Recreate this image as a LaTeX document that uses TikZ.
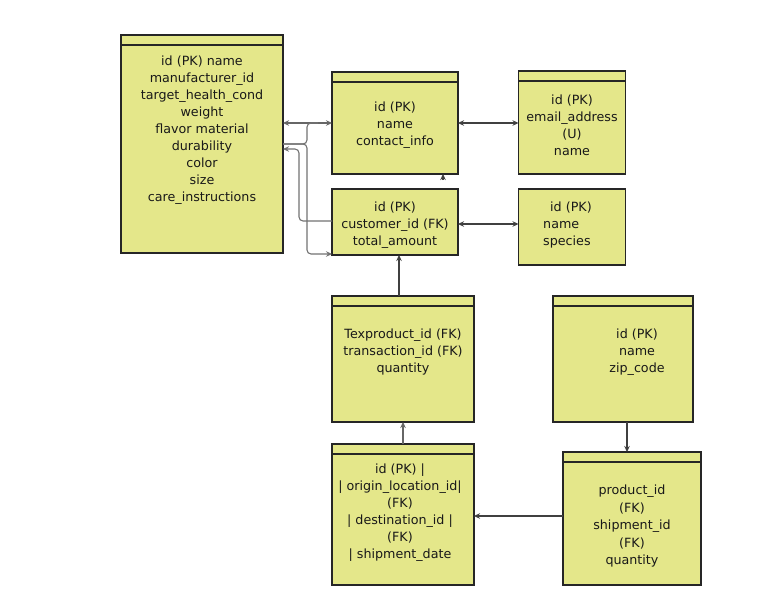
\documentclass[tikz,border=0pt]{standalone}
\usepackage{fontspec}
\setmainfont{DejaVu Sans}
\usetikzlibrary{arrows.meta}
\definecolor{boxfill}{RGB}{228,231,138}
\begin{document}
\begin{tikzpicture}[x=1pt,y=-1pt,
  tbl/.style={draw=black!85, line width=1.2pt, fill=boxfill, anchor=north west, inner sep=0pt, outer sep=0pt},
  hdr/.style={draw=black!85, line width=1.2pt},
  txt/.style={font=\fontsize{12.7}{17}\selectfont, align=center, text=black!90, inner sep=0pt},
  tip/.style={-{Stealth[length=6pt,width=5.5pt]}},
  bitip/.style={{Stealth[length=6pt,width=5.5pt]}-{Stealth[length=6pt,width=5.5pt]}},
  conn/.style={line width=1.1pt, draw=black!75},
  softconn/.style={line width=1.1pt, draw=black!55, rounded corners=4pt}]
\useasboundingbox (0,0) rectangle (768,594);
\fill[white] (0,0) rectangle (768,594);
% tables
\node[tbl, minimum width=162pt, minimum height=218pt] (A) at (121,35) {};
\node[tbl, minimum width=126pt, minimum height=102pt] (B) at (332,72) {};
\node[tbl, minimum width=107pt, minimum height=103pt] (C) at (518.5,71) {};
\node[tbl, minimum width=126pt, minimum height=66pt] (D) at (332,189) {};
\node[tbl, minimum width=107pt, minimum height=76pt] (E) at (518.5,189) {};
\node[tbl, minimum width=142pt, minimum height=126pt] (F) at (332,296) {};
\node[tbl, minimum width=140pt, minimum height=126pt] (G) at (553,296) {};
\node[tbl, minimum width=142pt, minimum height=141pt] (H) at (332,444) {};
\node[tbl, minimum width=138pt, minimum height=133pt] (I) at (563,452) {};
% header bands
\foreach \t in {A,B,C,F,G,H,I}
  \draw[hdr] ([yshift=-10pt]\t.north west) -- ([yshift=-10pt]\t.north east);
% texts
\node[txt] (At) at (202,130.5) {id (PK) name\\manufacturer\_id\\target\_health\_cond\\weight\\flavor material\\durability\\color\\size\\care\_instructions};
\node[txt] (Bt) at (395,125.5) {id (PK)\\name\\contact\_info};
\node[txt] (Ct) at (572,125) {id (PK)\\email\_address\\(U)\\name};
\node[txt] (Dt) at (395,225) {id (PK)\\customer\_id (FK)\\total\_amount};
\node[txt, align=left, anchor=west] (Et) at (543,225) {\hspace{7pt}id (PK)\\name\\species};
\node[txt] (Ft) at (403,352) {Texproduct\_id (FK)\\transaction\_id (FK)\\quantity};
\node[txt] (Gt) at (637,352) {id (PK)\\name\\zip\_code};
\node[txt] (Ht) at (400,513) {id (PK) |\\| origin\_location\_id|\\(FK)\\| destination\_id |\\(FK)\\| shipment\_date};
\node[txt, font=\fontsize{12.7}{17.5}\selectfont] (It) at (632,526) {product\_id\\(FK)\\shipment\_id\\(FK)\\quantity};
% helper levels
\coordinate (y144) at (0,144);
\coordinate (y149) at (0,149);
\coordinate (y221) at (0,221);
\coordinate (y224) at (0,224);
\coordinate (y254) at (0,254);
\coordinate (y516) at (0,516);
\coordinate (x399) at (399,0);
\coordinate (x443) at (443,0);
\coordinate (x627) at (627,0);
\coordinate (join) at (318,123);
% connectors left
\draw[conn, bitip, draw=black!60] (A.east |- B.west) -- (B.west);
\draw[softconn] (A.east |- y144) -- (307,144) -- (307,123) -- (join);
\draw[softconn, tip] (A.east |- y144) -- (307,144) -- (307,254) -- (D.west |- y254);
\draw[softconn, tip] (D.west |- y221) -- (299,221) -- (299,149) -- (A.east |- y149);
% other connectors
\draw[conn, bitip] (B.east) -- (C.west |- B.east);
\draw[conn, bitip] (D.east |- y224) -- (E.west |- y224);
\draw[conn, tip] ([yshift=-6pt]B.south -| x443) -- (B.south -| x443);
\draw[conn, tip] (F.north -| x399) -- (D.south -| x399);
\draw[conn, tip, draw=black!60] (H.north) -- (F.south);
\draw[conn, tip] (G.south -| x627) -- (I.north -| x627);
\draw[conn, tip] (I.west |- y516) -- (H.east |- y516);
\end{tikzpicture}
\end{document}
